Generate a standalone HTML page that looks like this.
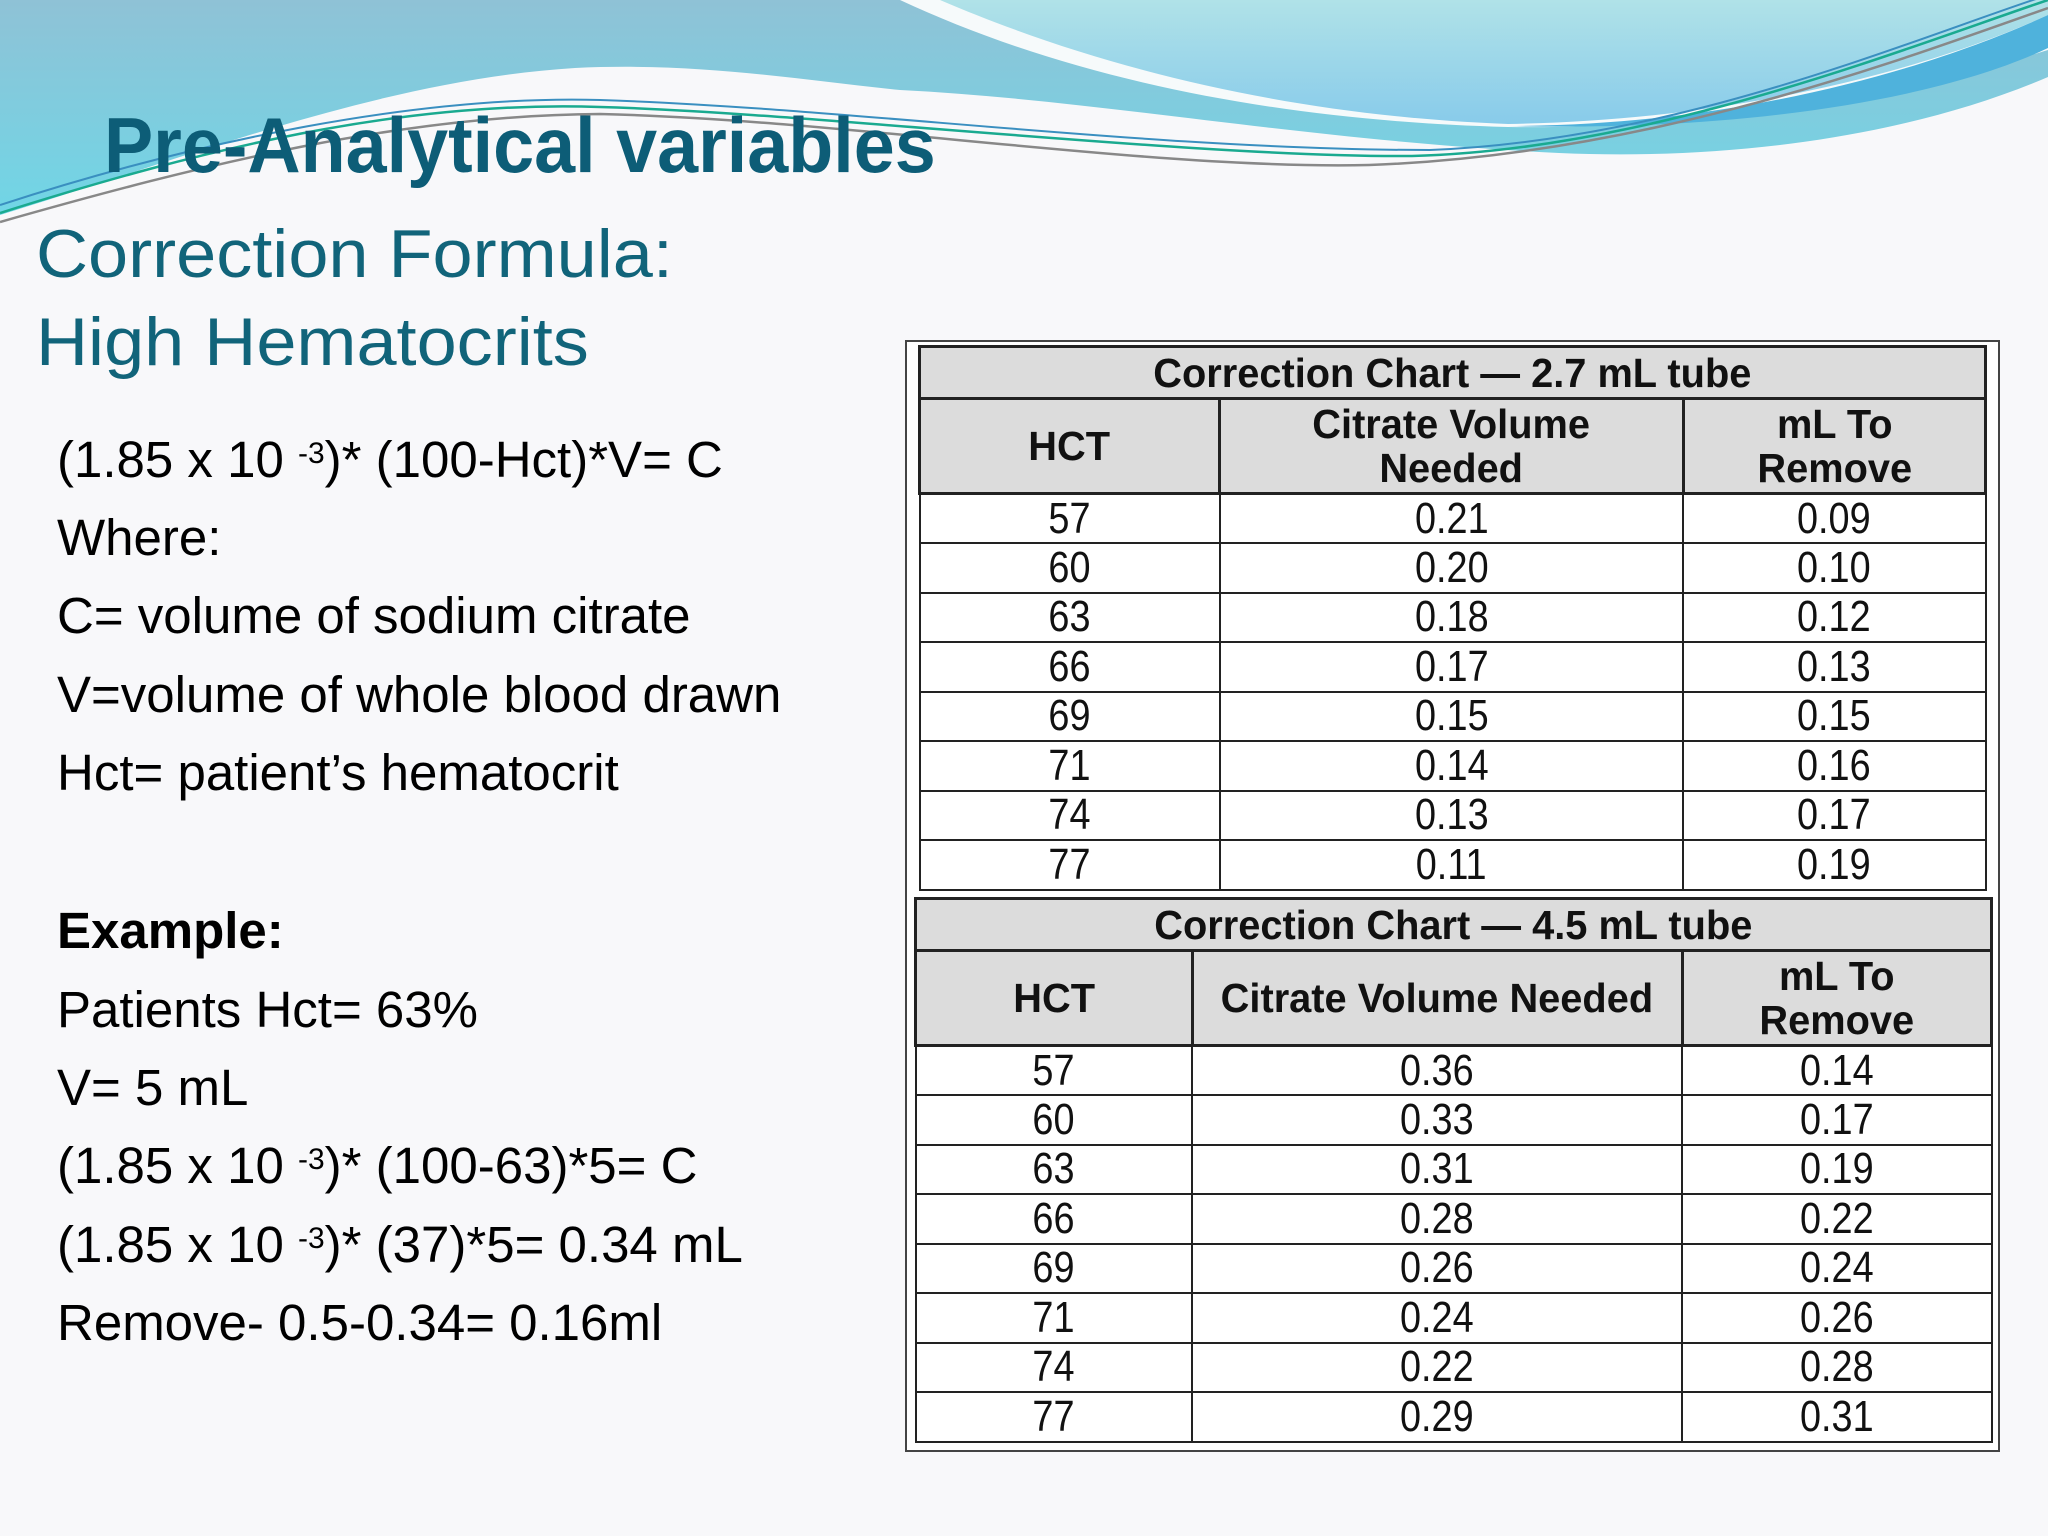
<!DOCTYPE html>
<html><head><meta charset="utf-8">
<style>
html,body{margin:0;padding:0;}
body{width:2048px;height:1536px;position:relative;overflow:hidden;background:#f8f8fa;font-family:"Liberation Sans",Arial,sans-serif;}
.abs{position:absolute;}
.title{left:104px;top:100px;font-size:78px;font-weight:bold;color:#0d5d77;white-space:nowrap;transform:scaleX(0.945);transform-origin:left top;}
.sub{left:36px;font-size:68px;color:#11647a;white-space:nowrap;transform:scaleX(1.06);transform-origin:left top;}
.body{left:57px;font-size:51px;color:#000;white-space:nowrap;line-height:56px;}
sup{font-size:30px;vertical-align:top;position:relative;top:-6px;}
.outer{left:905px;top:340px;width:1091px;height:1108px;border:2px solid #444;background:#fff;}
table{position:absolute;border-collapse:collapse;background:#fff;}
td{border:2px solid #222;text-align:center;font-size:44px;color:#111;padding:0;line-height:44px;}
td span{display:inline-block;transform:scaleX(0.86);}
td.h{background:#dcdcdc;font-weight:bold;font-size:41px;line-height:44px;}
td.h span{transform:scaleX(0.97);}
tr.tt td{border-width:3px;}
</style></head><body>
<svg class="abs" style="left:0;top:0" width="2048" height="260" viewBox="0 0 2048 260">
<defs>
<linearGradient id="g1" x1="0" y1="0" x2="0" y2="1"><stop offset="0" stop-color="#8fc2d6"/><stop offset="1" stop-color="#70d6e6"/></linearGradient>
<linearGradient id="g2" x1="0" y1="0" x2="0" y2="1"><stop offset="0" stop-color="#b0e2e8"/><stop offset="1" stop-color="#88cbea"/></linearGradient>
</defs>
<path d="M0 0 L2048 0 L2048 77 C1900 140 1720 160 1559 153 C1300 140 1100 100 900 90 C800 80 700 62 575 68 C380 80 180 160 0 215 Z" fill="url(#g1)"/>
<path d="M900 0 C1050 70 1250 120 1508 127 C1750 130 1950 80 2048 50 L2048 0 Z" fill="#f6fafb"/>
<path d="M940 0 C1080 60 1270 115 1508 124 C1760 120 1950 60 2048 15 L2048 0 Z" fill="url(#g2)"/>
<path d="M1508 126 C1760 125 1950 60 2048 15 L2048 48 C1950 95 1760 132 1508 126 Z" fill="#4fb2dc"/>
<path d="M0 213 C200 150 400 100 600 107 C800 112 1200 158 1412 156 C1650 150 1900 50 2048 0" fill="none" stroke="#1aaa90" stroke-width="2.5"/>
<path d="M0 222 C200 165 400 115 600 114 C850 120 1150 170 1369 165 C1650 155 1900 60 2048 8" fill="none" stroke="#888" stroke-width="2.5"/>
<path d="M0 205 C200 140 420 95 600 100 C850 108 1150 150 1430 150 C1680 140 1910 40 2048 -5" fill="none" stroke="#3a8fc0" stroke-width="2"/>
</svg>
<div class="abs title">Pre-Analytical variables</div>
<div class="abs sub" style="top:215px">Correction Formula:</div>
<div class="abs sub" style="top:303px">High Hematocrits</div>

<div class="abs body" style="top:432px">(1.85 x 10 <sup>-3</sup>)* (100-Hct)*V= C</div>
<div class="abs body" style="top:510px">Where:</div>
<div class="abs body" style="top:588px">C= volume of sodium citrate</div>
<div class="abs body" style="top:667px">V=volume of whole blood drawn</div>
<div class="abs body" style="top:745px">Hct= patient’s hematocrit</div>
<div class="abs body" style="top:903px;font-weight:bold">Example:</div>
<div class="abs body" style="top:982px">Patients Hct= 63%</div>
<div class="abs body" style="top:1060px">V= 5 mL</div>
<div class="abs body" style="top:1138px">(1.85 x 10 <sup>-3</sup>)* (100-63)*5= C</div>
<div class="abs body" style="top:1217px">(1.85 x 10 <sup>-3</sup>)* (37)*5= 0.34 mL</div>
<div class="abs body" style="top:1295px">Remove- 0.5-0.34= 0.16ml</div>

<div class="abs outer"></div>
<div id="tables"></div>
<script>
const hct = ["57","60","63","66","69","71","74","77"];
const citrate27 = ["0.21","0.20","0.18","0.17","0.15","0.14","0.13","0.11"];
const remove27 = ["0.09","0.10","0.12","0.13","0.15","0.16","0.17","0.19"];
const citrate45 = ["0.36","0.33","0.31","0.28","0.26","0.24","0.22","0.29"];
const remove45 = ["0.14","0.17","0.19","0.22","0.24","0.26","0.28","0.31"];

function build(name, left, top, cols, title, head2, c2, c3){
  const t=document.createElement('table');
  
  
  t.style.left=left+'px'; t.style.top=top+'px';
  t.style.width=(cols[0]+cols[1]+cols[2])+'px';
  let h='<tr class="tt" style="height:52px"><td class="h" colspan="3"><span>'+title+'</span></td></tr>';
  h+='<tr class="tt" style="height:95px"><td class="h" style="width:'+cols[0]+'px"><span>HCT</span></td><td class="h" style="width:'+cols[1]+'px"><span>'+head2+'</span></td><td class="h" style="width:'+cols[2]+'px"><span>mL To<br>Remove</span></td></tr>';
  for(let i=0;i<hct.length;i++){
    h+='<tr style="height:49.5px"><td><span>'+hct[i]+'</span></td><td><span>'+c2[i]+'</span></td><td><span>'+c3[i]+'</span></td></tr>';
  }
  t.innerHTML=h;
  document.getElementById('tables').appendChild(t);
}
build('table-2-7ml',918,345,[301,466,302],'Correction Chart — 2.7 mL tube','Citrate Volume<br>Needed',citrate27,remove27);
build('table-4-5ml',914,897,[277,493,309],'Correction Chart — 4.5 mL tube','Citrate Volume Needed',citrate45,remove45);
</script>
</body></html>
